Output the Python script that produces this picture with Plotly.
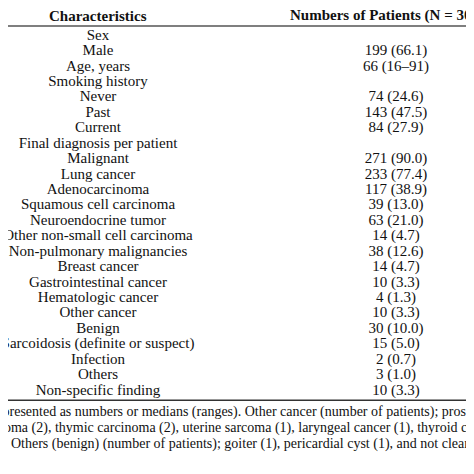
import plotly.graph_objects as go

characteristics = ["Sex", "Male", "Age, years", "Smoking history", "Never", "Past", "Current",
                   "Final diagnosis per patient", "Malignant", "Lung cancer", "Adenocarcinoma",
                   "Squamous cell carcinoma", "Neuroendocrine tumor", "Other non-small cell carcinoma",
                   "Non-pulmonary malignancies", "Breast cancer", "Gastrointestinal cancer",
                   "Hematologic cancer", "Other cancer", "Benign", "Sarcoidosis (definite or suspect)",
                   "Infection", "Others", "Non-specific finding"]
patients = ["", "199 (66.1)", "66 (16\u201391)", "", "74 (24.6)", "143 (47.5)", "84 (27.9)",
            "", "271 (90.0)", "233 (77.4)", "117 (38.9)", "39 (13.0)", "63 (21.0)", "14 (4.7)",
            "38 (12.6)", "14 (4.7)", "10 (3.3)", "4 (1.3)", "10 (3.3)", "30 (10.0)", "15 (5.0)",
            "2 (0.7)", "3 (1.0)", "10 (3.3)"]
headers = ["Characteristics", "Numbers of Patients (N = 301) (%)"]
footnotes = [
    "Data are presented as numbers or medians (ranges). Other cancer (number of patients); prostate cancer (2),",
    "hepatocellular carcinoma (2), thymic carcinoma (2), uterine sarcoma (1), laryngeal cancer (1), thyroid cancer (1), and",
    "unknown (1). Others (benign) (number of patients); goiter (1), pericardial cyst (1), and not clearly defined (1).",
]

rows = list(range(len(characteristics)))
font = dict(family="Liberation Serif", size=15, color="#111")

fig = go.Figure()
fig.add_trace(go.Scatter(x=[90] * len(rows), y=rows, mode="text", text=characteristics,
                         textfont=font, hoverinfo="skip"))
fig.add_trace(go.Scatter(x=[388] * len(rows), y=rows, mode="text", text=patients,
                         textfont=font, hoverinfo="skip"))

step = 15.43
y0 = -28 / step
fig.add_annotation(x=90, y=-1.3, text="<b>" + headers[0] + "</b>", showarrow=False, font=font)
fig.add_annotation(x=280, y=-1.3, text="<b>" + headers[1] + "</b>", showarrow=False, font=font,
                   xanchor="left")
fig.add_shape(type="line", x0=0, x1=474, y0=-0.65, y1=-0.65, line=dict(color="#555", width=1.5))
fig.add_shape(type="line", x0=0, x1=474, y0=len(rows) - 0.4, y1=len(rows) - 0.4,
              line=dict(color="#333", width=1.5))
for i, f in enumerate(footnotes):
    fig.add_annotation(x=[-0.123, -0.26, -0.165][i], xref="paper", y=len(rows) + 0.35 + i * 1.03,
                       text=f, showarrow=False, xanchor="left",
                       font=dict(family="Liberation Serif", size=14, color="#111"))

fig.update_layout(
    width=474, height=474, margin=dict(l=0, r=0, t=0, b=0),
    plot_bgcolor="white", paper_bgcolor="white", showlegend=False,
    xaxis=dict(range=[0, 474], visible=False),
    yaxis=dict(range=[y0 + 474 / step, y0], visible=False),
)
fig.write_html("out.html")
